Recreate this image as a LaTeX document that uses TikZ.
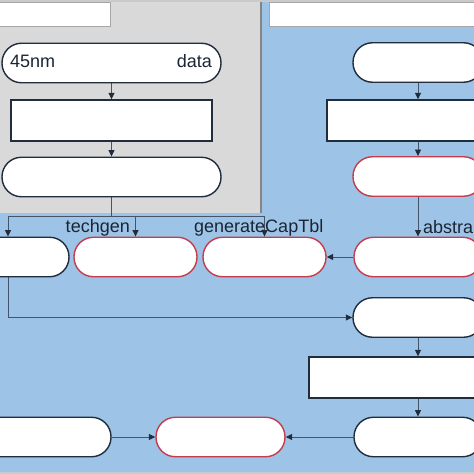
\documentclass[tikz,border=0pt]{standalone}
\usepackage{fontspec}
\setmainfont{Liberation Sans}
\usetikzlibrary{arrows.meta}
\definecolor{bgblue}{HTML}{9DC3E6}
\definecolor{panelgray}{HTML}{D9D9D9}
\definecolor{edgegray}{HTML}{A6A6A6}
\definecolor{navy}{HTML}{1F2D3D}
\definecolor{crimson}{HTML}{C43C4E}
\definecolor{wire}{HTML}{44546A}
\definecolor{txt}{HTML}{1A2535}
\pgfdeclarelayer{bg}
\pgfdeclarelayer{lines}
\pgfsetlayers{bg,lines,main}
\tikzset{
  pill/.style={draw=navy, line width=1.4pt, fill=white, rectangle, rounded corners=19.5pt, inner sep=0pt, minimum height=39.5pt},
  redpill/.style={pill, draw=crimson},
  box/.style={draw=navy, line width=1.4pt, fill=white, rectangle, inner sep=0pt, minimum height=41pt},
  wire/.style={draw=wire, line width=0.8pt},
  arr/.style={wire, -{Triangle[length=6.5pt,width=6pt,color=navy]}},
  lbl/.style={text=txt, font=\fontsize{18}{18}\selectfont, inner sep=0pt}
}
\begin{document}
\begin{tikzpicture}[x=1pt,y=-1pt]
\useasboundingbox (0,0) rectangle (474,474);
\clip (0,0) rectangle (474,474);
% nodes
\node[pill, minimum width=219pt] (p1) at (111.5,63) {};
\node[box, minimum width=201pt] (r1) at (111.5,120.5) {};
\node[pill, minimum width=219pt] (p2) at (111.5,177) {};
\node[pill, minimum width=122pt] (L) at (8,257) {};
\node[redpill, minimum width=123pt] (T) at (135.5,257) {};
\node[redpill, minimum width=123pt] (G) at (264.5,257) {};
\node[redpill, minimum width=128pt] (A) at (418,257) {};
\node[pill, minimum width=130pt] (R1) at (418,62.5) {};
\node[box, minimum width=182pt] (Rr) at (418,120.5) {};
\node[redpill, minimum width=130pt] (R3) at (418,176.5) {};
\node[pill, minimum width=130pt] (R4) at (418,317.5) {};
\node[box, minimum width=218pt] (Rr2) at (418,377.5) {};
\node[pill, minimum width=128pt] (R5) at (418,437) {};
\node[redpill, minimum width=129pt] (Bred) at (220.5,437) {};
\node[pill, minimum width=130pt] (Bleft) at (46,437) {};
% texts
\node[lbl, anchor=base west] (t45) at (10,67) {45nm};
\node[lbl, anchor=base east] (tdata) at (212,67) {data};
\node[lbl, anchor=base east] (ttech) at (130,232) {techgen};
\node[lbl, anchor=base west] (tgen) at (194,232) {generateCapTbl};
\node[lbl, anchor=base west] (tabs) at (423,233) {abstra};
% background
\begin{pgfonlayer}{bg}
  \fill[bgblue] (0,0) rectangle (474,474);
  \fill[panelgray] (0,0) rectangle (261,213);
  \draw[edgegray!80!black, line width=1.5pt] (261,0) -- (261,213);
  \fill[edgegray!60] (0,0) rectangle (474,2);
  \fill[edgegray!60] (0,472) rectangle (474,474);
  \draw[edgegray, line width=0.8pt, fill=white] (-2,2) rectangle (110,26);
  \draw[edgegray, line width=0.8pt, fill=white] (269,2) rectangle (480,26);
\end{pgfonlayer}
% connectors
\begin{pgfonlayer}{lines}
  \draw[arr] (p1) -- (r1);
  \draw[arr] (r1) -- (p2);
  \coordinate (jm) at (111.5,216);
  \coordinate (jl) at (8,216);
  \coordinate (jt) at (135.5,216);
  \coordinate (jg) at (264.5,216);
  \draw[wire] (p2.south) -- (jm);
  \draw[wire] (jl) -- (jg);
  \draw[arr] (jl) -- (L.north);
  \draw[arr] (jt) -- (T.north);
  \draw[arr] (jg) -- (G.north);
  \draw[arr] (L.south) |- (R4.west);
  \draw[arr] (R1) -- (Rr);
  \draw[arr] (Rr) -- (R3);
  \draw[arr] (R3) -- (A);
  \draw[arr] (A) -- (G);
  \draw[arr] (R4) -- (Rr2);
  \draw[arr] (Rr2) -- (R5);
  \draw[arr] (R5) -- (Bred);
  \draw[arr] (Bleft) -- (Bred);
\end{pgfonlayer}
\end{tikzpicture}
\end{document}
